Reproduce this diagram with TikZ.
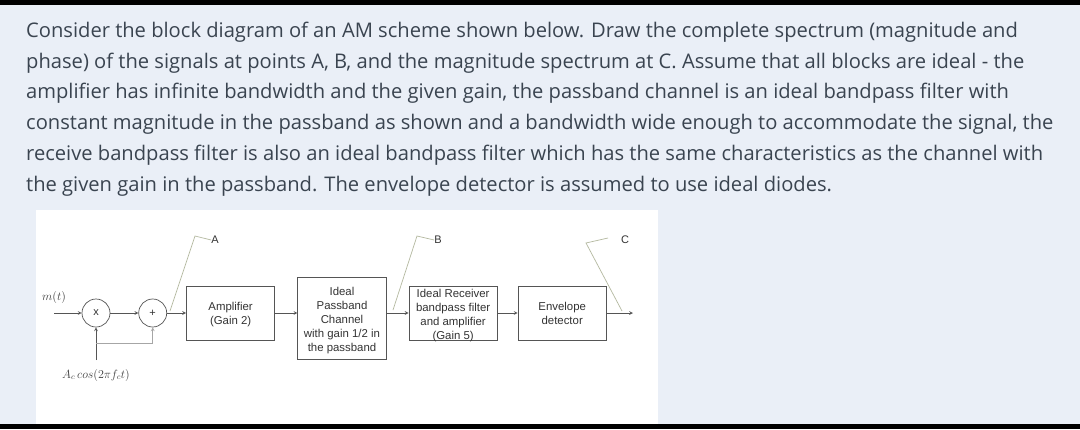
\documentclass[tikz,border=0pt]{standalone}
\usepackage{fontspec}
\setmainfont{Liberation Sans}
\newfontfamily\questionfont{Open Sans}
\usetikzlibrary{arrows,positioning}
\definecolor{pagebg}{HTML}{EAEFF7}
\definecolor{questiontext}{HTML}{3A4450}
\definecolor{blockline}{HTML}{555555}
\definecolor{probeline}{HTML}{B4B9A0}
\tikzset{
  blockbox/.style={shape=rectangle,draw=blockline,line width=0.7pt,minimum width=88.4pt,minimum height=54pt,inner sep=0pt,align=center,text=black!80,font=\fontsize{11.4}{14}\selectfont,text depth=0pt},
  mixer/.style={shape=circle,draw=blockline,line width=0.7pt,minimum size=28pt,inner sep=0pt,text=black!80,font=\fontsize{11}{12}\selectfont},
  probelabel/.style={text=black!80,inner sep=0pt,font=\fontsize{11}{12}\selectfont},
  mathlabel/.style={text=black!75,inner sep=0pt,font=\fontsize{11.7}{12}\selectfont},
  sig/.style={->,draw=blockline,line width=0.7pt},
  probe/.style={draw=probeline,line width=0.7pt},
}
\begin{document}
\begin{tikzpicture}[x=1pt,y=-1pt,>=stealth]
    \useasboundingbox (0,0) rectangle (1080,429);
    % page and panel
    \fill[pagebg] (0,0) rectangle (1080,429);
    \fill[white] (36,210) rectangle (658,424);
    \fill[black] (0,0) rectangle (1080,5);
    \fill[black] (0,424) rectangle (1080,429);
    % create the nodes
    \node (question)[anchor=north west, inner sep=0pt, align=left, text=questiontext, font=\questionfont\fontsize{20.15}{30.9}\selectfont] at (26,21.5) {Consider the block diagram of an AM scheme shown below. Draw the complete spectrum (magnitude and\\phase) of the signals at points A, B, and the magnitude spectrum at C. Assume that all blocks are ideal - the\\amplifier has infinite bandwidth and the given gain, the passband channel is an ideal bandpass filter with\\constant magnitude in the passband as shown and a bandwidth wide enough to accommodate the signal, the\\receive bandpass filter is also an ideal bandpass filter which has the same characteristics as the channel with\\the given gain in the passband. The envelope detector is assumed to use ideal diodes.};
    \node (mult)[mixer] at (96,313) {x};
    \node (add)[mixer, right=28pt of mult] {+};
    \node (amp)[blockbox, text height=22.2pt, right=19pt of add] {Amplifier\\(Gain 2)};
    \node (chan)[blockbox, text height=66.2pt, right=22.3pt of amp, minimum height=82pt, yshift=-5.7pt] {Ideal\\Passband\\Channel\\with gain 1/2 in\\the passband};
    \node (recv)[blockbox, text height=52.2pt, right=22pt of chan, yshift=5.7pt] {Ideal Receiver\\bandpass filter\\and amplifier\\(Gain 5)};
    \node (env)[blockbox, text height=22.2pt, right=20pt of recv] {Envelope\\detector};
    \node (msg)[mathlabel] at (54,297) {$m(t)$};
    \node (carrier)[mathlabel] at (96,375) {$A_c\, cos(2\pi f_c t)$};
    \node (labA)[probelabel] at (215,240) {A};
    \node (labB)[probelabel] at (438,240) {B};
    \node (labC)[probelabel] at (625,240) {C};
    \coordinate (msgin) at (54,313);
    \coordinate (carrierin) at (96,360);
    \coordinate (tap) at (96,343);
    \coordinate (out) at (633,313);
    \coordinate (probeA) at (170,311);
    \coordinate (kneeA) at (195,236);
    \coordinate (probeB) at (393,310);
    \coordinate (kneeB) at (417,236);
    \coordinate (probeC) at (622,311);
    \coordinate (kneeC) at (586,243);
    \coordinate (endC) at (608,238);
    % connect the nodes
    \draw[sig] (msgin) to (mult);
    \draw[sig] (carrierin) to (mult);
    \draw[sig] (mult) to (add);
    \draw[sig, draw=black!35] (tap) -| (add);
    \draw[sig] (add) to (amp);
    \draw[sig] (amp) -- (amp -| chan.west);
    \draw[sig] (recv -| chan.east) -- (recv);
    \draw[sig] (recv) to (env);
    \draw[sig] (env) to (out);
    % probe lines
    \draw[probe] (probeA) -- (kneeA) -- (labA.west);
    \draw[probe] (probeB) -- (kneeB) -- (labB.west);
    \draw[probe] (probeC) -- (kneeC) -- (endC);
\end{tikzpicture}
\end{document}
